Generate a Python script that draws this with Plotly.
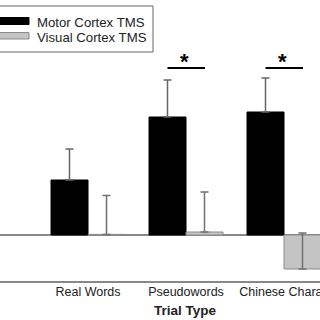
import plotly.graph_objects as go

categories = ["Real Words", "Pseudowords", "Chinese Characters"]
motor_vals = [27.5, 59.0, 61.5]
motor_err = [15.5, 18.5, 17.0]
visual_vals = [0.3, 1.5, -17.0]
visual_err = [19.5, 20.0, 18.0]
series_names = ["Motor Cortex TMS", "Visual Cortex TMS"]
x_title = "Trial Type"
sig_categories = [1, 2]
sig_level = 83.5

W, H = 320, 320
plot_bottom = 281  # px

def px_x(p):
    return p / W

def px_y(p):
    return (plot_bottom - p) / plot_bottom

FONT = "Liberation Sans, Arial, sans-serif"

fig = go.Figure()
fig.add_trace(go.Bar(
    x=list(range(len(categories))), y=motor_vals, name=series_names[0],
    marker=dict(color="#000000", line=dict(color="#000000", width=1)),
    error_y=dict(type="data", symmetric=False, array=motor_err,
                 arrayminus=[0] * len(motor_err), color="#666666",
                 thickness=1.5, width=4),
))
fig.add_trace(go.Bar(
    x=list(range(len(categories))), y=visual_vals, name=series_names[1],
    marker=dict(color="#c4c4c4", line=dict(color="#8a8a8a", width=1)),
    error_y=dict(type="data", symmetric=False, array=visual_err,
                 arrayminus=[0] * len(visual_err), color="#707070",
                 thickness=1.5, width=4),
))

bargap = 0.245
half = (1 - bargap) / 4  # offset of bar centre from category centre

shapes = []
annotations = []
for c in sig_categories:
    shapes.append(dict(type="line", xref="x", yref="y",
                       x0=c - half, x1=c + half + 0.005, y0=sig_level, y1=sig_level,
                       line=dict(color="#000000", width=2)))
    annotations.append(dict(x=c - 0.02, y=sig_level, xref="x", yref="y", text="<b>*</b>",
                            showarrow=False, yanchor="bottom", yshift=-8,
                            font=dict(size=22, color="#000000", family=FONT)))

# legend box (manual)
shapes.append(dict(type="rect", xref="paper", yref="paper",
                   x0=px_x(-5), x1=px_x(153), y0=px_y(52), y1=px_y(6),
                   line=dict(color="#666666", width=1), fillcolor="white"))
shapes.append(dict(type="rect", xref="paper", yref="paper",
                   x0=px_x(-5), x1=px_x(29), y0=px_y(24.5), y1=px_y(17.5),
                   line=dict(color="#000000", width=1), fillcolor="#000000"))
shapes.append(dict(type="rect", xref="paper", yref="paper",
                   x0=px_x(-5), x1=px_x(29), y0=px_y(39), y1=px_y(32.5),
                   line=dict(color="#8a8a8a", width=1), fillcolor="#c4c4c4"))
for i, nm in enumerate(series_names):
    annotations.append(dict(x=px_x(36), y=px_y(22.5 + 15 * i), xref="paper", yref="paper",
                            text=nm, showarrow=False, xanchor="left", yanchor="middle",
                            borderpad=0,
                            font=dict(size=13.2, color="#222222", family=FONT)))

annotations.append(dict(x=px_x(185), y=px_y(310), xref="paper", yref="paper",
                        text="<b>" + x_title + "</b>", showarrow=False,
                        xanchor="center", yanchor="middle",
                        font=dict(size=13.5, color="#222222", family=FONT)))

# last label sits slightly right of its category centre in the reference
tick_text = categories[:-1] + ["\u00a0" * 6 + categories[-1]]

fig.update_layout(
    width=W, height=H,
    margin=dict(l=0, r=0, t=0, b=H - plot_bottom, pad=0, autoexpand=False),
    paper_bgcolor="white", plot_bgcolor="white",
    barmode="group", bargap=bargap, bargroupgap=0,
    showlegend=False,
    shapes=shapes, annotations=annotations,
    xaxis=dict(range=[-88 / 98, (320 - 88) / 98], tickmode="array",
               tickvals=list(range(len(categories))), ticktext=tick_text,
               showgrid=False, zeroline=False, showline=True,
               linecolor="#888888", linewidth=1.5, ticks="",
               tickangle=0, automargin=False,
               ticklabeloverflow="allow", ticklabelstandoff=-2,
               tickfont=dict(size=12.5, color="#222222", family=FONT)),
    yaxis=dict(range=[-23, 117.5], showgrid=False, showticklabels=False,
               zeroline=True, zerolinecolor="#888888", zerolinewidth=1.5,
               showline=False, ticks="", automargin=False),
)

fig.write_html("out.html")
